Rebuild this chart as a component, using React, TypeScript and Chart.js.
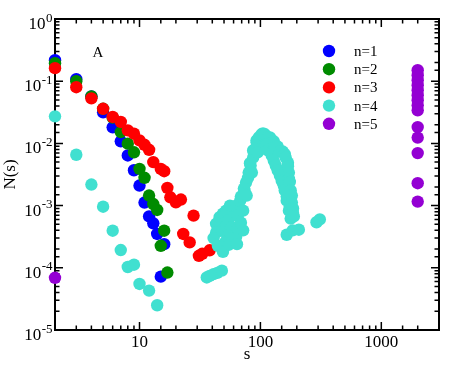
import React, { useEffect, useRef } from 'react';
import { Chart, registerables } from 'chart.js';

Chart.register(...registerables);

const FONT = "'Liberation Serif', 'Times New Roman', Times, serif";

const seriesLabels = ['n=1', 'n=2', 'n=3', 'n=4', 'n=5'];
const seriesColors = ['#0000ff', '#008b00', '#ff0000', '#40e0d0', '#9400d3'];

// n=1
const s1 = [2, 3, 4, 5, 6, 7, 8, 9, 10, 11, 12, 13, 14, 16, 15];
const N1 = [0.218, 0.108, 0.057, 0.0316, 0.0181, 0.0108, 0.0064, 0.0037, 0.0021, 0.00112, 0.00067, 0.00052, 0.00035, 0.00024, 0.000072];

// n=2
const s2 = [2, 3, 4, 5, 6, 7, 8, 9, 10, 11, 12, 13, 14, 15, 16, 17];
const N2 = [0.195, 0.1, 0.057, 0.036, 0.026, 0.0152, 0.0099, 0.0072, 0.0039, 0.0028, 0.00145, 0.00106, 0.00085, 0.000226, 0.000395, 0.000084];

// n=3
const s3 = [2, 3, 4, 5, 6, 7, 8, 9, 10, 11, 12, 13, 15, 16, 17, 18, 20, 22, 23, 26, 28, 31, 33, 38];
const N3 = [0.162, 0.08, 0.053, 0.036, 0.0266, 0.0221, 0.0162, 0.0143, 0.0112, 0.0095, 0.0079, 0.005, 0.0039, 0.00357, 0.00193, 0.00136, 0.00113, 0.00125, 0.00035, 0.000256, 0.00069, 0.000156, 0.000168, 0.000191];

// n=4
const s4 = [2, 3, 4, 5, 6, 7, 8, 9, 10, 12, 14,
  36, 38, 41, 44, 48,
  41, 43, 43, 44.5, 46, 48, 49, 49, 52, 52, 52, 54, 55, 56, 56, 58, 60, 62, 63, 63, 64, 65, 65, 68, 69, 69, 72, 72, 73, 74, 76, 77, 79, 80, 82, 83, 85, 87, 87, 90, 93, 93, 95, 97,
  102, 105, 109, 111, 115, 116, 120, 124, 124, 129, 129, 132, 134, 139, 139, 145, 145, 150, 153, 156, 159, 159, 162, 165, 165, 165, 169, 169, 172, 172, 172, 175, 175, 178, 178, 178, 182, 182, 185, 186, 186, 189, 208, 291, 310];
const N4 = [0.0272, 0.00657, 0.00218, 0.00096, 0.000395, 0.000193, 0.000103, 0.000112, 0.000055, 0.000043, 0.000025,
  0.00007, 0.000074, 0.000079, 0.000083, 0.00009,
  0.0003, 0.00051, 0.000367, 0.000226, 0.00065, 0.000395, 0.00018, 0.00074, 0.00027, 0.00083, 0.000476, 0.00057, 0.000235, 0.000367, 0.001, 0.00045, 0.00033, 0.00069, 0.001, 0.000316, 0.00024, 0.00043, 0.00069, 0.0012, 0.0014, 0.00053, 0.0004, 0.00083, 0.00188, 0.00175, 0.00235, 0.00145, 0.0028, 0.0034, 0.0048, 0.0044, 0.0034, 0.0077, 0.0059, 0.008, 0.0112, 0.0104, 0.0072, 0.0125,
  0.014, 0.0145, 0.014, 0.0093, 0.0077, 0.0125, 0.0125, 0.0104, 0.0064, 0.0108, 0.0053, 0.0086, 0.0044, 0.0089, 0.0037, 0.0074, 0.00305, 0.0025, 0.0074, 0.0021, 0.0067, 0.00175, 0.0059, 0.00034, 0.0014, 0.0012, 0.0049, 0.0043, 0.0034, 0.0027, 0.00083, 0.0024, 0.00096, 0.00175, 0.00062, 0.00145, 0.00145, 0.00112, 0.0004, 0.0009, 0.00077, 0.00067, 0.00041, 0.00054, 0.0006];

// n=5
const s5 = [2, 2000, 2000, 2000, 2000, 2000, 2000, 2000, 2000, 2000, 2000, 2000, 2000, 2000, 2000];
const N5 = [0.000069, 0.15, 0.125, 0.104, 0.0862, 0.0716, 0.0595, 0.0494, 0.041, 0.034, 0.0183, 0.0124, 0.00698, 0.00229, 0.00116];

const xMin = 2;
const xMax = 3000;
const yMin = 1e-5;
const yMax = 1;
const xTickValues = [10, 100, 1000];
const xTickLabels = ['10', '100', '1000'];
const yTickExponents = [0, -1, -2, -3, -4, -5];
const panelLabel = 'A';
const xTitle = 's';
const yTitle = 'N(s)';

export default function App() {
  const ref = useRef<HTMLCanvasElement>(null);

  useEffect(() => {
    const canvas = ref.current;
    if (!canvas) return;
    const sets: [number[], number[]][] = [[s1, N1], [s2, N2], [s3, N3], [s4, N4], [s5, N5]];
    const datasets = sets.map(([s, n], i) => ({
      label: seriesLabels[i],
      data: s.map((x, j) => ({ x, y: n[j] })),
      backgroundColor: seriesColors[i],
      borderColor: seriesColors[i],
      borderWidth: 0,
      pointRadius: 6.2,
      pointHoverRadius: 6.2,
      order: 5 - i,
      clip: false as any,
    }));

    const isMajor = (v: number) => Math.abs(Math.log10(v) - Math.round(Math.log10(v))) < 1e-6;

    const framePlugin = {
      id: 'frame',
      beforeDatasetsDraw(chart: any) {
        const { ctx, chartArea: a, scales } = chart;
        ctx.save();
        ctx.strokeStyle = '#000';
        ctx.lineWidth = 1.5;
        ctx.beginPath();
        scales.x.ticks.forEach((t: any) => {
          const v = t.value;
          if (v <= xMin * 1.0001 || v >= xMax * 0.9999) return;
          const p = scales.x.getPixelForValue(v);
          const L = isMajor(v) ? 8 : 4.5;
          ctx.moveTo(p, a.bottom);
          ctx.lineTo(p, a.bottom - L);
          ctx.moveTo(p, a.top);
          ctx.lineTo(p, a.top + L);
        });
        scales.y.ticks.forEach((t: any) => {
          const v = t.value;
          if (v <= yMin * 1.0001 || v >= yMax * 0.9999) return;
          const p = scales.y.getPixelForValue(v);
          const L = isMajor(v) ? 8 : 4.5;
          ctx.moveTo(a.left, p);
          ctx.lineTo(a.left + L, p);
          ctx.moveTo(a.right, p);
          ctx.lineTo(a.right - L, p);
        });
        ctx.stroke();
        ctx.lineWidth = 2;
        ctx.strokeRect(a.left, a.top, a.right - a.left, a.bottom - a.top);
        ctx.restore();
      },
      afterDraw(chart: any) {
        const { ctx, scales } = chart;
        ctx.save();
        ctx.fillStyle = '#000';
        ctx.textAlign = 'left';
        ctx.textBaseline = 'alphabetic';
        yTickExponents.forEach((e) => {
          const py = scales.y.getPixelForValue(Math.pow(10, e));
          const exp = e === 0 ? '0' : '-' + Math.abs(e);
          ctx.font = `17px ${FONT}`;
          const wb = ctx.measureText('10').width;
          ctx.font = `13px ${FONT}`;
          const we = ctx.measureText(exp).width;
          const x0 = 52.5 - we - wb - 0.5;
          ctx.font = `17px ${FONT}`;
          ctx.fillText('10', x0, py + 10);
          ctx.font = `13px ${FONT}`;
          ctx.fillText(exp, x0 + wb + 0.5, py + 2.5);
        });
        // legend
        ctx.font = `15px ${FONT}`;
        seriesLabels.forEach((lab, i) => {
          const y = 51 + i * 18.2;
          ctx.beginPath();
          ctx.fillStyle = seriesColors[i];
          ctx.arc(329, y, 6.2, 0, Math.PI * 2);
          ctx.fill();
          ctx.fillStyle = '#000';
          ctx.fillText(lab, 354, y + 5);
        });
        ctx.font = `15px ${FONT}`;
        ctx.fillText(panelLabel, 92.5, 56.5);
        ctx.restore();
      },
    };

    const chart = new Chart(canvas, {
      type: 'scatter',
      data: { datasets },
      options: {
        animation: false,
        responsive: false,
        devicePixelRatio: 1,
        events: [],
        layout: { padding: { left: 0, top: 19, right: 35, bottom: 0 } },
        plugins: { legend: { display: false }, tooltip: { enabled: false } },
        scales: {
          x: {
            type: 'logarithmic',
            position: 'bottom',
            min: xMin,
            max: xMax,
            grid: { display: false, drawTicks: false },
            border: { display: false },
            ticks: {
              autoSkip: false,
              maxRotation: 0,
              padding: 2,
              color: '#000',
              font: { family: FONT, size: 17 },
              callback: (value: any) => {
                const i = xTickValues.findIndex((t) => Math.abs(t - Number(value)) < 1e-6 * t);
                return i >= 0 ? xTickLabels[i] : '';
              },
            },
            title: {
              display: true,
              text: xTitle,
              color: '#000',
              font: { family: FONT, size: 17 },
              padding: { top: 0, bottom: 1 },
            },
            afterFit: (scale: any) => {
              scale.height = 36;
            },
          },
          y: {
            type: 'logarithmic',
            position: 'left',
            min: yMin,
            max: yMax,
            grid: { display: false, drawTicks: false },
            border: { display: false },
            ticks: { display: false },
            title: {
              display: true,
              text: yTitle,
              color: '#000',
              font: { family: FONT, size: 17 },
              padding: { top: 0, bottom: 0 },
            },
            afterFit: (scale: any) => {
              scale.width = 55;
            },
          },
        },
      } as any,
      plugins: [framePlugin],
    });
    return () => chart.destroy();
  }, []);

  return (
    <div style={{ position: 'fixed', left: 0, top: 0, width: 474, height: 366, background: '#fff' }}>
      <canvas ref={ref} width={474} height={366} style={{ display: 'block' }} />
    </div>
  );
}
